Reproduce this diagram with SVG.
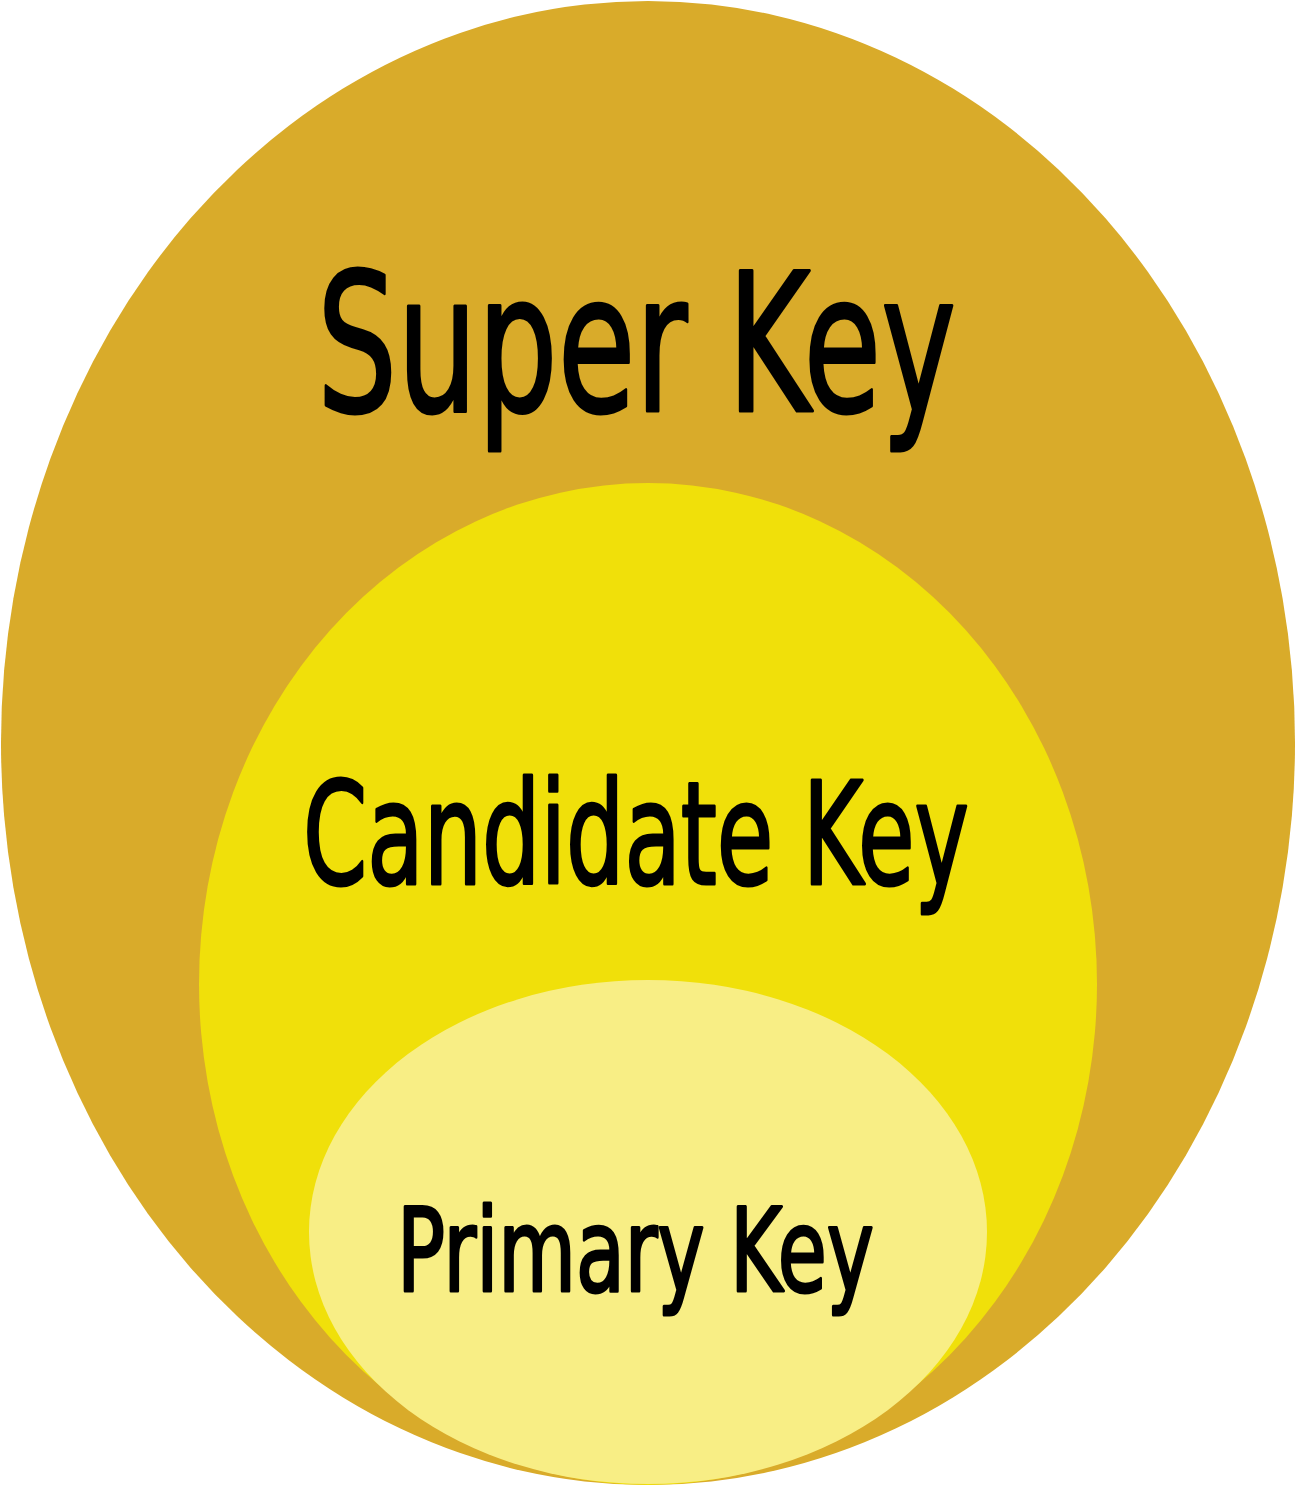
<svg xmlns="http://www.w3.org/2000/svg" width="1296" height="1486" viewBox="0 0 1296 1486">
<style>
.lbl{font-family:"DejaVu Sans Condensed","Liberation Sans Narrow","Liberation Sans",sans-serif;font-weight:normal;fill:#000;stroke:#000;stroke-width:3;stroke-linejoin:round}
</style>
<rect width="1296" height="1486" fill="#ffffff"/>
<g id="super-key">
<ellipse cx="648" cy="743" rx="647" ry="742" fill="#D9AB2A"/>
<text class="lbl" x="317" y="411" font-size="193" textLength="639" lengthAdjust="spacingAndGlyphs">Super Key</text>
</g>
<g id="candidate-key">
<ellipse cx="648" cy="984" rx="449" ry="501" fill="#F0E00A"/>
<text class="lbl" x="303" y="884" font-size="143" textLength="666" lengthAdjust="spacingAndGlyphs">Candidate Key</text>
</g>
<g id="primary-key">
<ellipse cx="648" cy="1232" rx="339" ry="252" fill="#F8EE85"/>
<text class="lbl" x="397" y="1291" font-size="116" textLength="477" lengthAdjust="spacingAndGlyphs">Primary Key</text>
</g>
<g id="connectors"/>
</svg>
